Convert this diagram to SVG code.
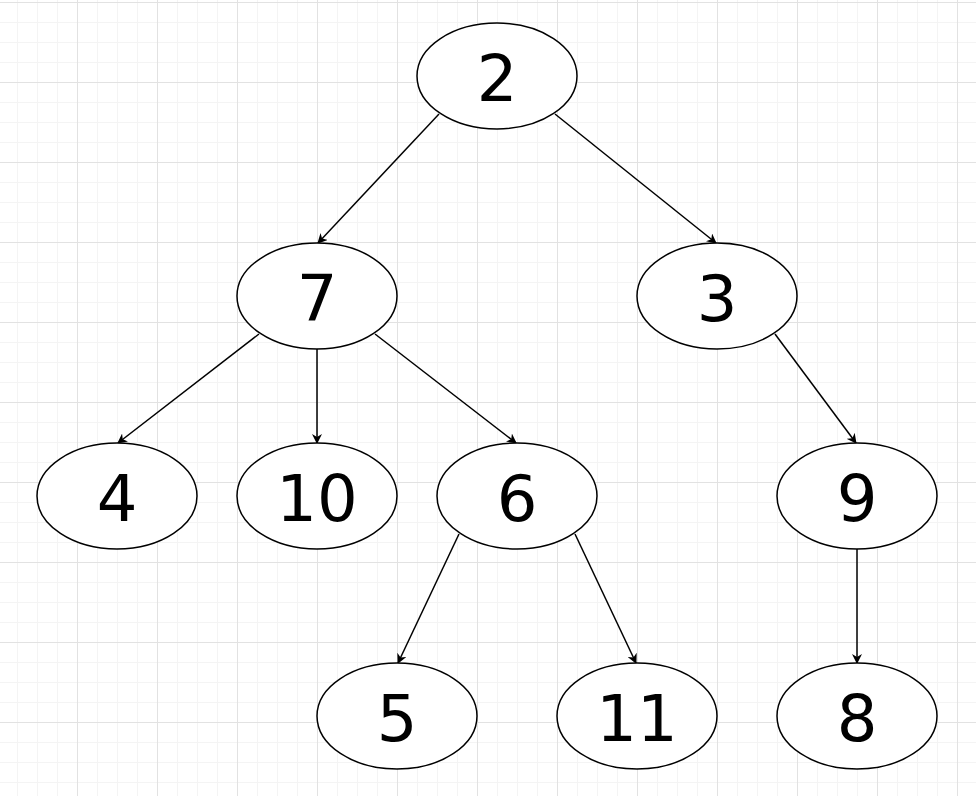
<svg xmlns="http://www.w3.org/2000/svg" width="976" height="796" viewBox="0 0 976 796">
<defs>
<pattern id="minor" x="-3" y="2" width="20" height="20" patternUnits="userSpaceOnUse"><path d="M0 0H20M0 0V20" fill="none" stroke="#f4f4f4" stroke-width="2"/></pattern>
<pattern id="major" x="-3" y="2" width="80" height="80" patternUnits="userSpaceOnUse"><path d="M0 0H80M0 0V80" fill="none" stroke="#e2e2e2" stroke-width="2"/></pattern>
<marker id="a" markerWidth="10" markerHeight="10" refX="9" refY="5" orient="auto" markerUnits="userSpaceOnUse"><path d="M0 0L10 5L0 10L3 5Z" fill="#000"/></marker>
</defs>
<style>
ellipse{fill:#fff;stroke:#000;stroke-width:1.5}
text{font-family:"DejaVu Sans",sans-serif;font-size:64px;text-anchor:middle;dominant-baseline:central}
#edges line{stroke:#000;stroke-width:1.5;marker-end:url(#a)}
</style>
<rect width="976" height="796" fill="#fff"/>
<rect width="976" height="796" fill="url(#minor)"/>
<rect width="976" height="796" fill="url(#major)"/>
<g id="edges">
<line x1="439" y1="114" x2="318" y2="243"/>
<line x1="555" y1="114" x2="716" y2="243"/>
<line x1="259" y1="334" x2="118" y2="443"/>
<line x1="317" y1="349" x2="317" y2="443"/>
<line x1="375" y1="334" x2="516" y2="443"/>
<line x1="775" y1="334" x2="856" y2="443"/>
<line x1="459" y1="534" x2="398" y2="663"/>
<line x1="575" y1="534" x2="636" y2="663"/>
<line x1="857" y1="549" x2="857" y2="663"/>
</g>
<g id="n2"><ellipse cx="497" cy="76" rx="80" ry="53"/><text x="497" y="79">2</text></g>
<g id="n7"><ellipse cx="317" cy="296" rx="80" ry="53"/><text x="317" y="299">7</text></g>
<g id="n3"><ellipse cx="717" cy="296" rx="80" ry="53"/><text x="717" y="299">3</text></g>
<g id="n4"><ellipse cx="117" cy="496" rx="80" ry="53"/><text x="117" y="499">4</text></g>
<g id="n10"><ellipse cx="317" cy="496" rx="80" ry="53"/><text x="317" y="499">10</text></g>
<g id="n6"><ellipse cx="517" cy="496" rx="80" ry="53"/><text x="517" y="499">6</text></g>
<g id="n9"><ellipse cx="857" cy="496" rx="80" ry="53"/><text x="857" y="499">9</text></g>
<g id="n5"><ellipse cx="397" cy="716" rx="80" ry="53"/><text x="397" y="719">5</text></g>
<g id="n11"><ellipse cx="637" cy="716" rx="80" ry="53"/><text x="637" y="719">11</text></g>
<g id="n8"><ellipse cx="857" cy="716" rx="80" ry="53"/><text x="857" y="719">8</text></g>
</svg>
